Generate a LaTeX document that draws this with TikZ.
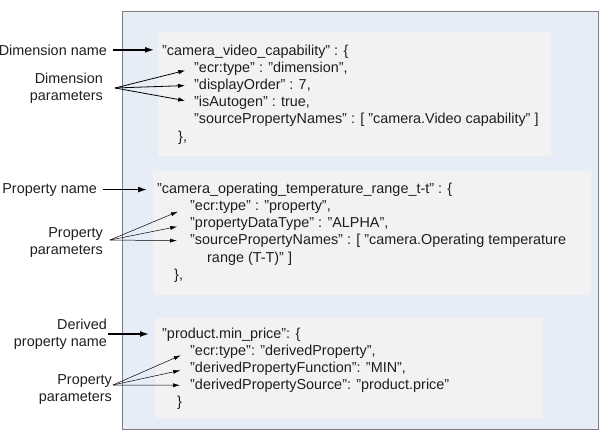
\documentclass[tikz,border=0pt]{standalone}
\usepackage{fontspec}
\setmainfont{Liberation Sans}
\usetikzlibrary{arrows.meta}
\definecolor{panelblue}{RGB}{231,237,247}
\definecolor{codegray}{RGB}{242,242,242}
\definecolor{framegray}{RGB}{125,125,125}
\definecolor{inkgray}{RGB}{30,30,30}

\begin{document}
\begin{tikzpicture}[x=1pt, y=-1pt,
  every node/.style={font=\fontsize{14.4}{17}\selectfont, text=inkgray, inner sep=0pt},
  code/.style={anchor=base west},
  lbl/.style={align=right, anchor=east},
  namearrow/.style={line width=1.4pt, -{Latex[length=9pt,width=6pt]}},
  dimarrow/.style={line width=0.8pt, -{Latex[length=7pt,width=4.5pt]}, shorten >=9pt},
  proparrow/.style={line width=0.5pt, -{Latex[length=7pt,width=4pt]}}]
\useasboundingbox (0,0) rectangle (600,431);

\fill[panelblue, draw=framegray, line width=0.8pt] (122.5,11.5) rectangle (598.5,429);
\fill[codegray] (158,32) rectangle (551,156);
\fill[codegray] (153,171) rectangle (591,295);
\fill[codegray] (155,318) rectangle (542,418);

% dimension
\node[code] (dimname) at (162,55) {"camera\_video\_capability" : \{};
\node[code] (dimtype) at (194,72) {"ecr:type" : "dimension",};
\node[code] (dimorder) at (194,89) {"displayOrder" : 7,};
\node[code] (dimauto) at (194,106) {"isAutogen" : true,};
\node[code] (dimsrc) at (194,123) {"sourcePropertyNames" : [ "camera.Video capability" ]};
\node[code] (dimend) at (178,141) {\},};

\node[anchor=base east] (dimlbl) at (107,55) {Dimension name};
\node[lbl] (dimpar) at (103,88.5) {Dimension\\parameters};
\coordinate (dimfan) at (115,88);
\draw[namearrow, shorten <=6pt, shorten >=8pt] (dimlbl.east) -- (dimlbl.east -| dimname.west);
\foreach \t in {dimtype, dimorder, dimauto}
  \draw[dimarrow] (dimfan) -- (\t.west);

% property
\node[code] (propname) at (157,193) {"camera\_operating\_temperature\_range\_t-t" : \{};
\node[code] (proptype) at (190,210) {"ecr:type" : "property",};
\node[code] (propdata) at (190,227.5) {"propertyDataType" : "ALPHA",};
\node[code] (propsrc) at (190,244.5) {"sourcePropertyNames" : [ "camera.Operating temperature};
\node[code] (propsrcb) at (207,262) {range (T-T)" ]};
\node[code] (propend) at (174,279) {\},};

\node[anchor=base east] (proplbl) at (97,193) {Property name};
\node[lbl] (proppar) at (103,243) {Property\\parameters};
\coordinate (propfan) at (110,240);
\draw[namearrow, shorten <=6pt, shorten >=10pt] (proplbl.east) -- (proplbl.east -| propname.west);
\foreach \t in {proptype, propdata, propsrc}
  \draw[proparrow, shorten >=13pt] (propfan) -- (\t.west);

% derived property
\node[code] (dername) at (162,338) {"product.min\_price": \{};
\node[code] (dertype) at (190,355) {"ecr:type": "derivedProperty",};
\node[code] (derfunc) at (190,372) {"derivedPropertyFunction": "MIN",};
\node[code] (dersrc) at (190,389) {"derivedPropertySource": "product.price"};
\node[code] (derend) at (177,406) {\}};

\node[lbl] (derlbl) at (107,334) {Derived\\property name};
\node[lbl] (derpar) at (112,390) {Property\\parameters};
\coordinate (derfan) at (113,385);
\draw[namearrow, shorten <=1pt, shorten >=13pt] (derlbl.east) -- (derlbl.east -| dername.west);
\foreach \t in {dertype, derfunc, dersrc}
  \draw[proparrow, shorten >=10pt] (derfan) -- (\t.west);
\end{tikzpicture}
\end{document}
